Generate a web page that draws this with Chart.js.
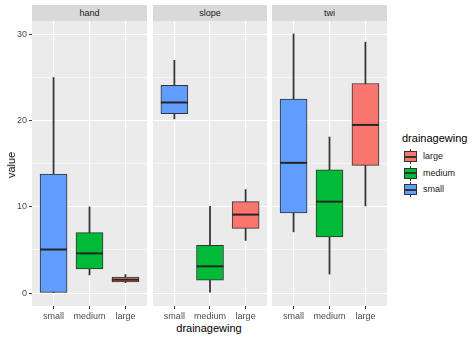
<!DOCTYPE html>
<html>
<head>
<meta charset="utf-8">
<script src="https://cdn.jsdelivr.net/npm/chart.js@4.4.0/dist/chart.umd.min.js"></script>
<style>
  body { margin: 0; width: 474px; height: 338px; background: #fff; position: relative; overflow: hidden;
         font-family: 'Liberation Sans', Arial, sans-serif; }
  canvas { position: absolute; }
  .strip { position: absolute; top: 5px; height: 16px; background: #d9d9d9; color: #1a1a1a;
           font-size: 9px; line-height: 16px; text-align: center; }
  .ytitle { position: absolute; left: 11px; top: 165px; font-size: 11px; color: #000;
            transform: translate(-50%, -50%) rotate(-90deg); white-space: nowrap; }
  .xtitle { position: absolute; left: 209px; top: 328px; font-size: 11px; color: #000;
            transform: translate(-50%, -50%); white-space: nowrap; }
  .ltitle { position: absolute; left: 402px; top: 132px; font-size: 11px; color: #000; }
  .key { position: absolute; left: 402px; width: 17px; height: 17px; }
  .key .wh { position: absolute; left: 8px; top: 1px; width: 1px; height: 15px; background: #333; }
  .key .bx { position: absolute; left: 2px; top: 3px; width: 13px; height: 11px; box-sizing: border-box;
             border: 1px solid #333; }
  .key .md { position: absolute; left: 2px; top: 7.5px; width: 13px; height: 2px; background: #333; }
  .klab { position: absolute; left: 423px; font-size: 9px; color: #1a1a1a; line-height: 17px; }
</style>
</head>
<body>

<div class="strip" style="left:32px;width:115px;">hand</div>
<div class="strip" style="left:153px;width:114px;">slope</div>
<div class="strip" style="left:272px;width:115px;">twi</div>

<canvas id="c1" width="147" height="300" style="left:0;top:21px;"></canvas>
<canvas id="c2" width="114" height="300" style="left:153px;top:21px;"></canvas>
<canvas id="c3" width="115" height="300" style="left:272px;top:21px;"></canvas>

<div class="ytitle">value</div>
<div class="xtitle">drainagewing</div>

<div class="ltitle">drainagewing</div>
<div id="legend"></div>

<script>
const categories = ['small', 'medium', 'large'];
const yTicks = [0, 5, 10, 15, 20, 25, 30];

// box stats per facet, one entry per category (small, medium, large)
const handLower  = [0,    2.1,  1.2];
const handQ1     = [0,    2.8,  1.3];
const handMedian = [5.05, 4.6,  1.55];
const handQ3     = [13.8, 7.0,  1.85];
const handUpper  = [25.0, 10.0, 2.15];

const slopeLower  = [20.2, 0.1,   6.1];
const slopeQ1     = [20.8, 1.5,   7.5];
const slopeMedian = [22.1, 3.1,   9.1];
const slopeQ3     = [24.1, 5.55,  10.6];
const slopeUpper  = [27.0, 10.05, 12.0];

const twiLower  = [7.1,   2.2,  10.1];
const twiQ1     = [9.3,   6.5,  14.8];
const twiMedian = [15.1,  10.6, 19.5];
const twiQ3     = [22.5,  14.3, 24.3];
const twiUpper  = [30.05, 18.1, 29.1];

const fillColors = ['#619CFF', '#00BA38', '#F8766D'];
const legendOrder = [2, 1, 0];

const panelBg = {
  id: 'panelBg',
  beforeDraw(chart) {
    const a = chart.chartArea;
    chart.ctx.save();
    chart.ctx.fillStyle = '#EBEBEB';
    chart.ctx.fillRect(a.left, a.top, a.right - a.left, a.bottom - a.top);
    chart.ctx.restore();
  }
};

function noPad(s) {
  s.paddingTop = 0;
  s.paddingBottom = 0;
  s.paddingLeft = 0;
  s.paddingRight = 0;
}

function makeFacet(id, lower, q1, median, q3, upper, showY) {
  const pos = (arr) => arr.map((v, i) => ({ x: i + 1, y: v }));
  const ranges = (a, b) => a.map((v, i) => ({ x: i + 1, y: [v, b[i]] }));

  new Chart(document.getElementById(id), {
    data: {
      datasets: [
        {
          type: 'line',
          data: pos(median),
          showLine: false,
          pointStyle: 'line',
          pointRadius: 13.5,
          pointBorderWidth: 2,
          pointBorderColor: '#262626',
          order: 0
        },
        {
          type: 'bar',
          data: ranges(q1, q3),
          backgroundColor: fillColors,
          borderColor: '#333333',
          borderWidth: 1,
          borderSkipped: false,
          barThickness: 27,
          grouped: false,
          order: 1
        },
        {
          type: 'bar',
          data: ranges(lower, upper),
          backgroundColor: '#333333',
          borderWidth: 0,
          barThickness: 1.1,
          grouped: false,
          order: 2
        }
      ]
    },
    options: {
      responsive: false,
      animation: false,
      events: [],
      layout: { padding: 0, autoPadding: false },
      plugins: { legend: { display: false }, tooltip: { enabled: false } },
      scales: {
        x: {
          type: 'linear',
          min: 0.4,
          max: 3.6,
          offset: false,
          afterBuildTicks: (s) => { s.ticks = categories.map((c, i) => ({ value: i + 1 })); },
          afterFit: (s) => { s.height = 15; noPad(s); },
          border: { display: false },
          grid: { offset: false, color: '#ffffff', lineWidth: 1.1, tickColor: '#333333', tickLength: 3, tickWidth: 1 },
          ticks: {
            padding: 2,
            autoSkip: false,
            color: '#4D4D4D',
            font: { family: 'Liberation Sans', size: 9 },
            maxRotation: 0,
            callback: (v) => categories[v - 1]
          }
        },
        y: {
          type: 'linear',
          min: -1.5,
          max: 31.55,
          afterBuildTicks: (s) => { s.ticks = yTicks.map(v => ({ value: v })); },
          afterFit: (s) => { s.width = showY ? 32 : 0; noPad(s); },
          border: { display: false },
          grid: {
            color: '#ffffff',
            lineWidth: (ctx) => (ctx.tick && ctx.tick.value % 10 === 0) ? 1.1 : 0.55,
            drawTicks: showY,
            tickLength: 3,
            tickWidth: 1,
            tickColor: (ctx) => (ctx.tick && ctx.tick.value % 10 === 0) ? '#333333' : 'rgba(0,0,0,0)'
          },
          ticks: {
            display: showY,
            padding: 2,
            color: '#4D4D4D',
            font: { family: 'Liberation Sans', size: 9 },
            callback: (v) => v % 10 === 0 ? String(v) : ''
          }
        }
      }
    },
    plugins: [panelBg]
  });
}

makeFacet('c1', handLower, handQ1, handMedian, handQ3, handUpper, true);
makeFacet('c2', slopeLower, slopeQ1, slopeMedian, slopeQ3, slopeUpper, false);
makeFacet('c3', twiLower, twiQ1, twiMedian, twiQ3, twiUpper, false);

// legend, drawn in ggplot's order (large, medium, small)
const legend = document.getElementById('legend');
legendOrder.forEach((ci, row) => {
  const top = 148 + row * 16.5;
  const key = document.createElement('div');
  key.className = 'key';
  key.style.top = top + 'px';
  key.innerHTML = '<div class="wh"></div><div class="bx" style="background:' + fillColors[ci] +
    '"></div><div class="md"></div>';
  legend.appendChild(key);
  const lab = document.createElement('div');
  lab.className = 'klab';
  lab.style.top = top + 'px';
  lab.textContent = categories[ci];
  legend.appendChild(lab);
});
</script>
</body>
</html>
